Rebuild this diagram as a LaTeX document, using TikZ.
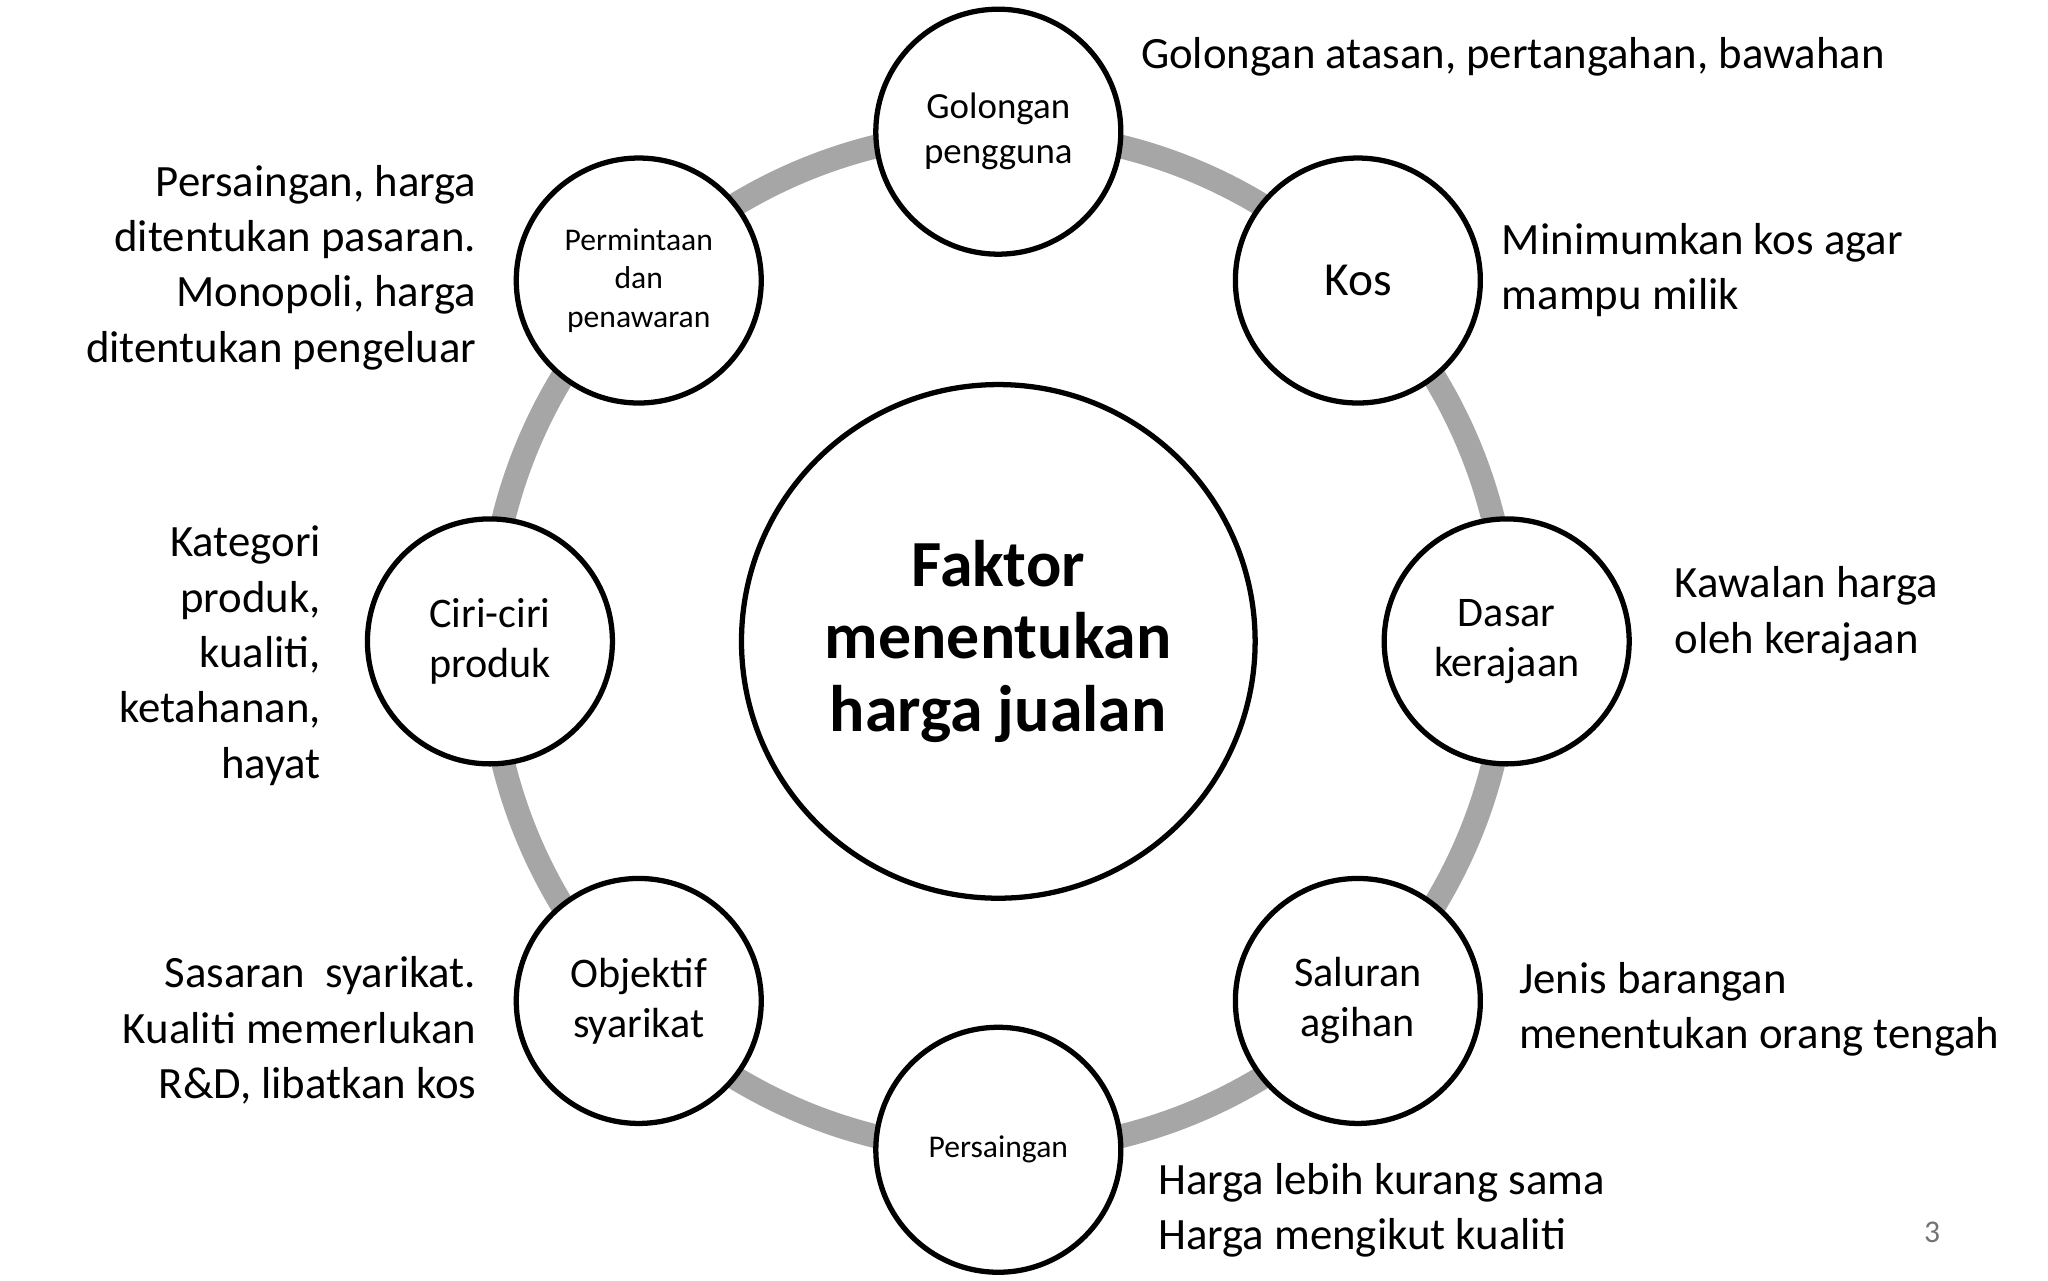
\documentclass[tikz,border=0pt]{standalone}
\usepackage{fontspec}
\setmainfont{Carlito}
\begin{document}
\begin{tikzpicture}[x=0.5pt,y=-0.5pt,
  sat/.style={circle,draw=black,line width=2pt,fill=white,minimum size=93pt,inner sep=0pt,align=center},
  side/.style={font=\fontsize{17}{21}\selectfont,inner sep=0pt},
  sideL/.style={side,anchor=north east,align=right},
  sideR/.style={side,anchor=north west,align=left}]
\useasboundingbox (0,0) rectangle (1555,972);
\fill[white] (0,0) rectangle (1555,972);
\draw[line width=9pt,color=black!35] (758,487) circle (193.5pt);
\node[sat,minimum size=195pt,font=\bfseries\fontsize{25}{27.5}\selectfont] (c) at (758,487) {Faktor\\menentukan\\harga jualan};
\node[sat,font=\fontsize{14}{17}\selectfont] (g) at (758,100) {Golongan\\pengguna};
\node[sat,font=\fontsize{18}{22}\selectfont] (k) at (1031,213) {Kos};
\node[sat,font=\fontsize{16}{19}\selectfont] (d) at (1144,487) {Dasar\\kerajaan};
\node[sat,font=\fontsize{16}{19}\selectfont] (s) at (1031,760) {Saluran\\agihan};
\node[sat,font=\fontsize{12}{14.5}\selectfont] (p) at (758,873) {Persaingan};
\node[sat,font=\fontsize{16}{19}\selectfont] (o) at (485,760) {Objektif\\syarikat};
\node[sat,font=\fontsize{16}{19}\selectfont] (r) at (372,487) {Ciri-ciri\\produk};
\node[sat,font=\fontsize{12}{14.5}\selectfont] (m) at (485,213) {Permintaan\\dan\\penawaran};
\node[sideR] (tg) at (866,28) {Golongan atasan, pertangahan, bawahan};
\node[sideR] (tk) at (1140,169) {Minimumkan kos agar\\mampu milik};
\node[sideR] (td) at (1271,430) {Kawalan harga\\oleh kerajaan};
\node[sideR] (ts) at (1153,730) {Jenis barangan\\menentukan orang tengah};
\node[sideR] (tp) at (879,883) {Harga lebih kurang sama\\Harga mengikut kualiti};
\node[sideL] (to) at (362,726) {Sasaran\ \ syarikat.\\Kualiti memerlukan\\R\&D, libatkan kos};
\node[sideL] (tr) at (244,399) {Kategori\\produk,\\kualiti,\\ketahanan,\\hayat};
\node[sideL] (tm) at (362,125) {Persaingan, harga\\ditentukan pasaran.\\Monopoli, harga\\ditentukan pengeluar};
\node[text=black!55,font=\fontsize{12}{14}\selectfont] (n) at (1467,936) {3};
\end{tikzpicture}
\end{document}
